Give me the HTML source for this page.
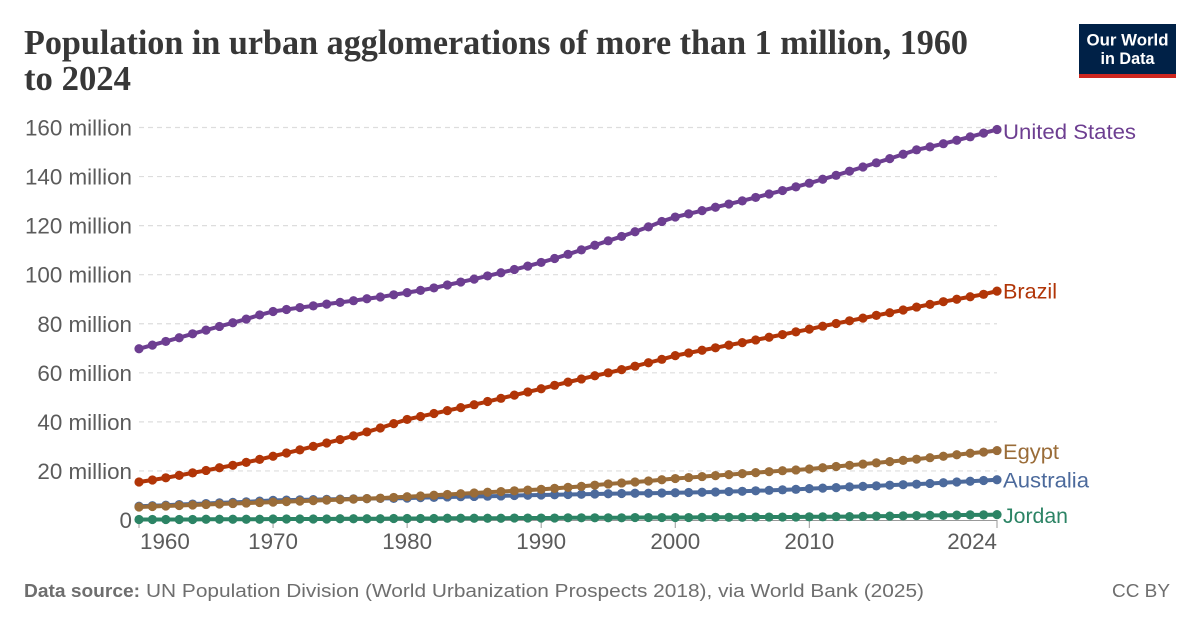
<!DOCTYPE html>
<html lang="en">
<head>
<meta charset="utf-8">
<title>Population in urban agglomerations of more than 1 million</title>
<style>
html,body{margin:0;padding:0;background:#fff;width:1200px;height:627px;overflow:hidden}
svg{display:block}
text{font-family:"Liberation Sans",sans-serif}
.title{font-family:"Liberation Serif",serif;font-weight:700;font-size:35px;fill:#373737}
.tick{font-size:22.4px;fill:#5b5b5b}
.foot{font-size:18px;fill:#6e6e6e}
.lab{font-size:21.5px}
</style>
</head>
<body>
<svg id="chart" xmlns="http://www.w3.org/2000/svg" width="1200" height="627" viewBox="0 0 1200 627">
  <text class="title" x="24" y="54" textLength="944" lengthAdjust="spacingAndGlyphs">Population in urban agglomerations of more than 1 million, 1960</text>
  <text class="title" x="24" y="90" textLength="107" lengthAdjust="spacingAndGlyphs">to 2024</text>
  <g>
    <rect x="1079" y="24" width="97" height="50" fill="#002147"></rect>
    <rect x="1079" y="74" width="97" height="4" fill="#ce261e"></rect>
    <text x="1127.5" y="45.5" text-anchor="middle" fill="#fff" font-weight="700" font-size="17" textLength="82" lengthAdjust="spacingAndGlyphs">Our World</text>
    <text x="1127.5" y="64" text-anchor="middle" fill="#fff" font-weight="700" font-size="17" textLength="54" lengthAdjust="spacingAndGlyphs">in Data</text>
  </g>
  <g id="grid"></g>
  <g id="yticks"></g>
  <g id="xaxis"></g>
  <g id="series"></g>
  <g id="labels"></g>
  <text class="foot" x="24" y="597" font-weight="700" textLength="116" lengthAdjust="spacingAndGlyphs">Data source:</text>
  <text class="foot" x="146" y="597" textLength="778" lengthAdjust="spacingAndGlyphs">UN Population Division (World Urbanization Prospects 2018), via World Bank (2025)</text>
  <text class="foot" x="1170" y="597" text-anchor="end" textLength="58" lengthAdjust="spacingAndGlyphs">CC BY</text>
</svg>
<script>
const startYear = 1960;
const xTickYears = [1960, 1970, 1980, 1990, 2000, 2010, 2024];
const yTickValues = [0, 20, 40, 60, 80, 100, 120, 140, 160];
const yTickLabels = ['0', '20 million', '40 million', '60 million', '80 million', '100 million', '120 million', '140 million', '160 million'];

const unitedStates = [69.8,71.3,72.8,74.3,75.9,77.4,78.9,80.4,81.9,83.6,85.0,85.8,86.6,87.3,88.0,88.7,89.4,90.2,90.9,91.8,92.7,93.6,94.6,95.8,97.0,98.2,99.5,100.8,102.1,103.5,105.0,106.6,108.3,110.1,112.0,113.8,115.6,117.5,119.5,121.7,123.5,124.8,126.1,127.5,128.8,130.1,131.5,132.9,134.3,135.8,137.3,138.9,140.5,142.2,143.9,145.6,147.3,149.1,150.9,152.1,153.4,154.8,156.2,157.7,159.2];
const brazil = [15.5,16.3,17.2,18.2,19.2,20.2,21.3,22.3,23.5,24.7,26.0,27.3,28.6,30.0,31.4,32.8,34.3,35.9,37.5,39.3,41.0,42.2,43.4,44.6,45.8,47.0,48.3,49.6,50.9,52.2,53.5,54.9,56.2,57.5,58.8,60.0,61.3,62.7,64.1,65.5,67.0,68.1,69.2,70.2,71.3,72.3,73.4,74.5,75.6,76.7,77.8,79.0,80.1,81.2,82.3,83.4,84.5,85.6,86.8,87.9,89.0,90.0,91.0,92.0,93.3];
const australia = [5.6,5.8,6.0,6.3,6.5,6.7,7.0,7.2,7.4,7.7,8.0,8.1,8.2,8.3,8.4,8.5,8.6,8.7,8.8,8.8,8.9,9.1,9.2,9.4,9.5,9.6,9.7,9.8,10.0,10.1,10.2,10.3,10.4,10.5,10.6,10.7,10.8,10.9,10.9,11.0,11.1,11.2,11.3,11.4,11.6,11.7,11.9,12.1,12.3,12.5,12.8,13.0,13.2,13.5,13.7,13.9,14.2,14.4,14.6,14.9,15.2,15.5,15.8,16.1,16.4];
const egypt = [5.3,5.5,5.7,5.9,6.1,6.3,6.5,6.7,6.9,7.1,7.3,7.5,7.7,7.9,8.1,8.3,8.5,8.7,8.9,9.2,9.5,9.8,10.1,10.4,10.7,11.0,11.3,11.6,11.9,12.2,12.5,12.9,13.3,13.7,14.2,14.7,15.1,15.5,15.9,16.4,16.9,17.3,17.7,18.1,18.5,18.9,19.3,19.7,20.1,20.4,20.8,21.3,21.8,22.3,22.8,23.3,23.8,24.3,24.8,25.4,26.0,26.6,27.2,27.7,28.3];
const jordan = [0.2,0.2,0.2,0.2,0.2,0.3,0.3,0.3,0.3,0.3,0.4,0.4,0.4,0.4,0.4,0.5,0.5,0.5,0.5,0.6,0.6,0.6,0.6,0.7,0.7,0.7,0.7,0.7,0.8,0.8,0.8,0.8,0.9,0.9,0.9,0.9,0.9,1.0,1.0,1.0,1.0,1.0,1.1,1.1,1.1,1.1,1.2,1.2,1.2,1.2,1.3,1.3,1.4,1.4,1.5,1.6,1.6,1.7,1.8,1.9,1.9,2.0,2.1,2.1,2.2];

const seriesNames = ['United States', 'Brazil', 'Australia', 'Egypt', 'Jordan'];
const seriesValues = [unitedStates, brazil, australia, egypt, jordan];
const seriesColors = ['#6D3E91', '#B13507', '#4C6A9C', '#9A6C38', '#2C8465'];
const labelWidths = [133, 54, 86, 56, 65];
const labelNudge = [2, 0, 0, 1, 1];

const NS = 'http://www.w3.org/2000/svg';
const xScale = function (year) { return 139 + (year - startYear) * (858 / 64); };
const yScale = function (v) { return 520 - v * (392.5 / 160); };
function make(tag, attrs, parent) {
  const el = document.createElementNS(NS, tag);
  for (const k in attrs) { el.setAttribute(k, attrs[k]); }
  parent.appendChild(el);
  return el;
}
const grid = document.getElementById('grid');
const yticks = document.getElementById('yticks');
const xaxis = document.getElementById('xaxis');
const seriesG = document.getElementById('series');
const labelsG = document.getElementById('labels');

yTickValues.forEach(function (v, i) {
  if (v !== 0) {
    const gl = make('line', {x1: 139, x2: 997, y1: yScale(v), y2: yScale(v), stroke: '#dddddd', 'stroke-width': 1.2, 'stroke-dasharray': '5,4'}, grid);
    
    
  }
  const t = make('text', {class: 'tick', x: 132, y: yScale(v) + 8, 'text-anchor': 'end'}, yticks);
  
  
  t.textContent = yTickLabels[i];
});

const axisLine = make('line', {x1: 139, x2: 997, y1: 520.5, y2: 520.5, stroke: '#999999', 'stroke-width': 1}, xaxis);


xTickYears.forEach(function (yr, i) {
  const x = xScale(yr);
  const tk = make('line', {x1: x, x2: x, y1: 520, y2: 528, stroke: '#999999', 'stroke-width': 1}, xaxis);
  
  
  const anchor = i === 0 ? 'start' : (i === xTickYears.length - 1 ? 'end' : 'middle');
  const t = make('text', {class: 'tick', x: x + (i === 0 ? 1 : 0), y: 549, 'text-anchor': anchor}, xaxis);
  
  
  t.textContent = String(yr);
});

seriesNames.forEach(function (name, s) {
  const vals = seriesValues[s];
  const color = seriesColors[s];
  const g = make('g', {}, seriesG);
  
  
  const pts = vals.map(function (v, i) { return xScale(startYear + i).toFixed(2) + ',' + yScale(v).toFixed(2); }).join(' ');
  const line = make('polyline', {points: pts, fill: 'none', stroke: color, 'stroke-width': 4, 'stroke-linejoin': 'round'}, g);
  
  
  vals.forEach(function (v, i) {
    const c = make('circle', {cx: xScale(startYear + i), cy: yScale(v), r: 4.6, fill: color}, g);
    
    
  });
  const t = make('text', {class: 'lab', x: 1003, y: yScale(vals[vals.length - 1]) + 7.5 + labelNudge[s], fill: color, textLength: labelWidths[s], lengthAdjust: 'spacingAndGlyphs'}, labelsG);
  
  
  t.textContent = name;
});
</script>
</body>
</html>
